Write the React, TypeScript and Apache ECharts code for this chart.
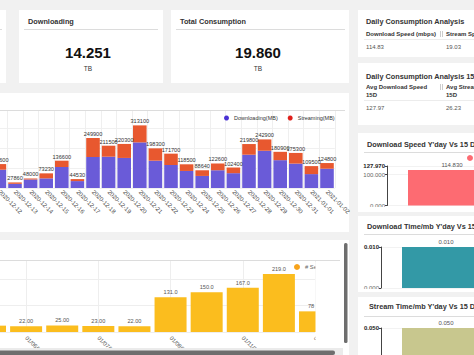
import React, { useEffect, useRef } from "react";
import * as echarts from "echarts";

const FONT = '"Liberation Sans", Arial, sans-serif';
// the canvas starts OX px left of the page so that panels cut by the page's left edge can be drawn
const OX = 40;
const CANVAS_W = 474 + OX + 220;
const X = (x: number) => x + OX;

// ---- KPI cards ----
const kpiTitles = ["Downloading", "Total Consumption"];
const kpiValues = ["14.251", "19.860"];
const kpiUnit = "TB";

// ---- Daily usage (stacked bars) ----
const usageDates = [
  "2020-12-12", "2020-12-13", "2020-12-14", "2020-12-15", "2020-12-16", "2020-12-17",
  "2020-12-18", "2020-12-19", "2020-12-20", "2020-12-21", "2020-12-22", "2020-12-23",
  "2020-12-24", "2020-12-25", "2020-12-26", "2020-12-27", "2020-12-28", "2020-12-29",
  "2020-12-30", "2020-12-31", "2021-01-01", "2021-01-02",
];
const downloadingMB = [
  91600, 20860, 43000, 48230, 104900, 34530, 154900, 156500, 150300, 228100, 136600,
  115000, 85200, 60340, 89300, 74100, 166500, 186200, 139200, 122000, 69500, 96500,
];
const streamingMB = [
  28000, 7000, 5000, 25000, 31700, 10000, 95000, 55000, 70000, 85000, 61700,
  56700, 33300, 28300, 33300, 28300, 53300, 56700, 41700, 53300, 40000, 28300,
];

// ---- Sent counts (yellow bars) ----
const sentSlots = [
  "01/05/2021 12:00", "01/06/2021 00:00", "01/06/2021 12:00", "01/07/2021 00:00",
  "01/07/2021 12:00", "01/08/2021 00:00", "01/08/2021 12:00", "01/11/2021 00:00",
  "01/11/2021 12:00", "01/12/2021 00:00",
];
const sentCounts = [24, 22, 25, 23, 22, 131, 150, 167, 219, 78];

// ---- Right column tables ----
const dailyHeaders = ["Download Speed (mbps)", "Stream Speed (mbps)"];
const dailyValues = ["114.83", "19.03"];
const avgHeaders = [["Avg Download Speed", "15D"], ["Avg Stream Speed", "15D"]];
const avgValues = ["127.97", "26.23"];

// ---- Y'day vs 15 days ----
const compareCats = ["Y'day", "15 Days"];
const speedValues = [114.83, 127.97];
const dlTimeValues = [0.01, 0.008];
const stTimeValues = [0.05, 0.038];

const rect = (x: number, y: number, w: number, h: number, fill = "#ffffff", z = -5, r = 0) => ({
  type: "rect", silent: true, z, shape: { x: X(x), y, width: w, height: h, r }, style: { fill },
});
const hline = (x1: number, x2: number, y: number, stroke = "#dcdcdc", z = 5) => ({
  type: "line", silent: true, z, shape: { x1: X(x1), y1: y, x2: X(x2), y2: y }, style: { stroke, lineWidth: 1 },
});
const vline = (x: number, y1: number, y2: number, stroke = "#cccccc", z = 5) => ({
  type: "line", silent: true, z, shape: { x1: X(x), y1, x2: X(x), y2 }, style: { stroke, lineWidth: 1 },
});
const txt = (text: string, x: number, y: number, size: number, o: any = {}) => ({
  type: "text", silent: true, z: 10, x: X(x), y,
  style: {
    text, fontSize: size, fontFamily: FONT, fontWeight: o.bold ? "bold" : "normal",
    fill: o.color || "#333", align: o.align || "left", verticalAlign: "middle",
  },
});

function buildGraphics() {
  const g: any[] = [];
  // panels
  g.push(rect(-30, 10, 36, 73));
  g.push(rect(19, 10, 144, 73));
  g.push(rect(171, 10, 178, 73));
  g.push(rect(-30, 93, 379, 139));
  g.push(rect(-30, 240, 379, 130));
  g.push(rect(358, 10, 200, 47));
  g.push(rect(358, 63, 200, 62));
  g.push(rect(358, 133, 200, 79));
  g.push(rect(358, 216, 200, 76));
  g.push(rect(358, 297, 200, 70));
  // separators
  g.push(hline(-30, 2, 29.5));
  g.push(hline(24, 158, 29.5));
  g.push(hline(176, 345, 29.5));
  g.push(hline(-30, 345, 110.5));
  g.push(hline(-30, 340, 260.5));
  g.push(hline(364, 558, 152.5));
  g.push(hline(364, 558, 234.5));
  g.push(hline(364, 558, 316.5));
  // KPI cards
  const kpiTitleX = [28, 180];
  const kpiCenterX = [88, 258];
  kpiTitles.forEach((t, i) => {
    g.push(txt(t, kpiTitleX[i], 21, 7.3, { bold: true, color: "#333" }));
    g.push(txt(kpiValues[i], kpiCenterX[i], 52, 15, { bold: true, color: "#111", align: "center" }));
    g.push(txt(kpiUnit, kpiCenterX[i], 68, 6.5, { color: "#333", align: "center" }));
  });
  // Right column: daily table
  const colX = [366, 446];
  g.push(txt("Daily Consumption Analysis", 366, 21, 7.3, { bold: true }));
  dailyHeaders.forEach((h, i) => g.push(txt(h, colX[i], 34, 6, { bold: true, color: "#333" })));
  g.push(vline(440.5, 31, 37));
  g.push(vline(442.5, 31, 37));
  g.push(hline(364, 558, 39.5, "#ececec"));
  dailyValues.forEach((v, i) => g.push(txt(v, colX[i], 47, 6, { color: "#555" })));
  // 15D table
  g.push(txt("Daily Consumption Analysis 15D", 366, 76, 7.3, { bold: true }));
  avgHeaders.forEach((h, i) => {
    g.push(txt(h[0], colX[i], 87, 6, { bold: true }));
    g.push(txt(h[1], colX[i], 94.5, 6, { bold: true }));
  });
  g.push(vline(440.5, 84, 90));
  g.push(vline(442.5, 84, 90));
  g.push(hline(364, 558, 100.5, "#ececec"));
  avgValues.forEach((v, i) => g.push(txt(v, colX[i], 108, 6, { color: "#555" })));
  // comparison panels titles
  g.push(txt("Download Speed Y'day Vs 15 Days", 367, 144, 7.3, { bold: true }));
  g.push(txt("Download Time/mb Y'day Vs 15 Days", 367, 226, 7.3, { bold: true }));
  g.push(txt("Stream Time/mb Y'day Vs 15 Days", 369, 306, 7.3, { bold: true }));
  // clipping covers
  g.push(rect(358, 207, 200, 5, "#ffffff", 100));
  g.push(rect(358, 289, 200, 3, "#ffffff", 100));
  g.push(rect(315.5, 262, 27.5, 86, "#ffffff", 100));
  // scrollbars
  g.push(rect(-30, 348, 373, 7, "#ebebeb", 101));
  g.push(rect(-2, 350.5, 337, 4.5, "#6e6e6e", 102, 2));
  g.push(rect(344, 243, 3.5, 100, "#6e6e6e", 102, 1.5));
  return g;
}

const valueAxisHidden = {
  axisLabel: { show: false }, axisLine: { show: false }, axisTick: { show: false },
};

const cmpYAxis = (gridIndex: number, max: number, interval: number, digits: number) => ({
  gridIndex, type: "value", min: 0, max, interval,
  axisLine: { show: true, lineStyle: { color: "#444" } },
  axisTick: { show: true, length: 2, lineStyle: { color: "#444" } },
  splitLine: { show: true, lineStyle: { color: "#f2f2f2" } },
  axisLabel: {
    fontSize: 6, color: "#666", margin: 2,
    formatter: (v: number) => (Math.abs(v - max) < 1e-9 ? `{b|${v.toFixed(digits)}}` : v.toFixed(digits)),
    rich: { b: { fontWeight: "bold", color: "#222", fontSize: 6 } },
  },
});

const cmpLabel = {
  show: true, position: "top", distance: 2, fontSize: 6, color: "#555",
  formatter: (p: any) => p.value.toFixed(3),
};

const gridBase = { outerBoundsMode: "none", containLabel: false };

function buildOption() {
  const speedMax = Math.max(...speedValues);
  const dlMax = Math.max(...dlTimeValues);
  const stMax = Math.max(...stTimeValues);
  const lastSent = sentCounts.length - 1;
  return {
    animation: false,
    textStyle: { fontFamily: FONT },
    graphic: { elements: buildGraphics() },
    grid: [
      { ...gridBase, left: X(-8.4), top: 110, width: 343.2, height: 78 },
      { ...gridBase, left: X(-10), top: 260, width: 325, height: 72 },
      { ...gridBase, left: X(387), top: 166, width: 260, height: 39.5 },
      { ...gridBase, left: X(381), top: 247, width: 260, height: 41 },
      { ...gridBase, left: X(381), top: 328, width: 260, height: 41 },
    ],
    legend: [
      {
        data: [
          { name: "Downloading(MB)", itemStyle: { color: "#4a32d4" } },
          { name: "Streaming(MB)", itemStyle: { color: "#df1f1a" } },
        ],
        left: X(224), top: 115, padding: 0, icon: "circle", itemWidth: 5, itemHeight: 5, itemGap: 10,
        textStyle: { fontSize: 5.5, color: "#333", fontFamily: FONT },
      },
      {
        data: [{ name: "# Sent", itemStyle: { color: "#f7a31c" } }],
        left: X(294), top: 264, padding: 0, icon: "circle", itemWidth: 6, itemHeight: 6,
        textStyle: { fontSize: 5.8, color: "#666", fontFamily: FONT },
      },
      {
        data: [{ name: "Y'day" }],
        left: X(467), top: 155, padding: 0, icon: "circle", itemWidth: 6, itemHeight: 6,
        textStyle: { fontSize: 6, color: "#666", fontFamily: FONT },
      },
    ],
    xAxis: [
      {
        gridIndex: 0, type: "category", data: usageDates,
        axisLine: { show: false }, axisTick: { show: false },
        axisLabel: { rotate: -45, fontSize: 6, color: "#444", margin: 3, interval: 0 },
        splitLine: { show: true, lineStyle: { color: "#efefef" } },
      },
      {
        gridIndex: 1, type: "category", data: sentSlots, boundaryGap: false,
        axisLine: { show: false }, axisTick: { show: false },
        axisLabel: { rotate: -45, fontSize: 5.8, color: "#555", margin: 5, interval: (i: number) => i % 2 === 1 },
        splitLine: { show: true, interval: (i: number) => i % 2 === 1, lineStyle: { color: "#eeeeee" } },
      },
      { gridIndex: 2, type: "category", data: compareCats, show: false },
      { gridIndex: 3, type: "category", data: compareCats, show: false },
      { gridIndex: 4, type: "category", data: compareCats, show: false },
    ],
    yAxis: [
      { gridIndex: 0, type: "value", min: 0, max: 390000, interval: 100000, ...valueAxisHidden, splitLine: { lineStyle: { color: "#f0f0f0" } } },
      { gridIndex: 1, type: "value", min: 0, max: 272, interval: 100, ...valueAxisHidden, splitLine: { lineStyle: { color: "#eeeeee" } } },
      cmpYAxis(2, speedMax, 100, 3),
      cmpYAxis(3, dlMax, dlMax, 3),
      cmpYAxis(4, stMax, stMax, 3),
    ],
    series: [
      {
        name: "Downloading(MB)", type: "bar", stack: "usage", xAxisIndex: 0, yAxisIndex: 0,
        data: downloadingMB, itemStyle: { color: "#6a5bd8" }, barCategoryGap: "13%",
      },
      {
        name: "Streaming(MB)", type: "bar", stack: "usage", xAxisIndex: 0, yAxisIndex: 0,
        data: streamingMB, itemStyle: { color: "#e8582f" },
        label: {
          show: true, position: "top", distance: 1, fontSize: 5.6, color: "#333",
          formatter: (p: any) => String(downloadingMB[p.dataIndex] + streamingMB[p.dataIndex]),
        },
      },
      {
        name: "# Sent", type: "bar", xAxisIndex: 1, yAxisIndex: 1, barWidth: 32, clip: false,
        data: sentCounts.map((v, i) =>
          i === 0 ? { value: v, label: { show: false } } : i === lastSent ? { value: v, label: { offset: [-4, 0] } } : v
        ),
        itemStyle: { color: "#fbbd1e" },
        label: {
          show: true, position: "top", distance: 2, fontSize: 5.6, color: "#555",
          formatter: (p: any) =>
            p.dataIndex === lastSent ? String(p.value) : p.value >= 100 ? p.value.toFixed(1) : p.value.toFixed(2),
        },
      },
      {
        name: "Y'day", type: "bar", xAxisIndex: 2, yAxisIndex: 2, data: speedValues, barWidth: 88,
        itemStyle: { color: "#fd6b72" }, label: cmpLabel,
      },
      {
        name: "Download Time/mb", type: "bar", xAxisIndex: 3, yAxisIndex: 3, data: dlTimeValues, barWidth: 88,
        itemStyle: { color: "#3399a6" }, label: cmpLabel,
      },
      {
        name: "Stream Time/mb", type: "bar", xAxisIndex: 4, yAxisIndex: 4, data: stTimeValues, barWidth: 88,
        itemStyle: { color: "#c8c78e" }, label: cmpLabel,
      },
    ],
  };
}

export default function App() {
  const ref = useRef<HTMLDivElement>(null);
  useEffect(() => {
    if (!ref.current) return;
    const chart = echarts.init(ref.current, undefined, { renderer: "svg" });
    chart.setOption(buildOption() as any);
    return () => chart.dispose();
  }, []);
  return (
    <div
      style={{
        position: "fixed", left: 0, top: 0, width: 474, height: 355,
        overflow: "hidden", background: "#f1f1f1",
      }}
    >
      <div
        ref={ref}
        style={{ position: "absolute", left: -OX, top: 0, width: CANVAS_W, height: 355 }}
      />
    </div>
  );
}
